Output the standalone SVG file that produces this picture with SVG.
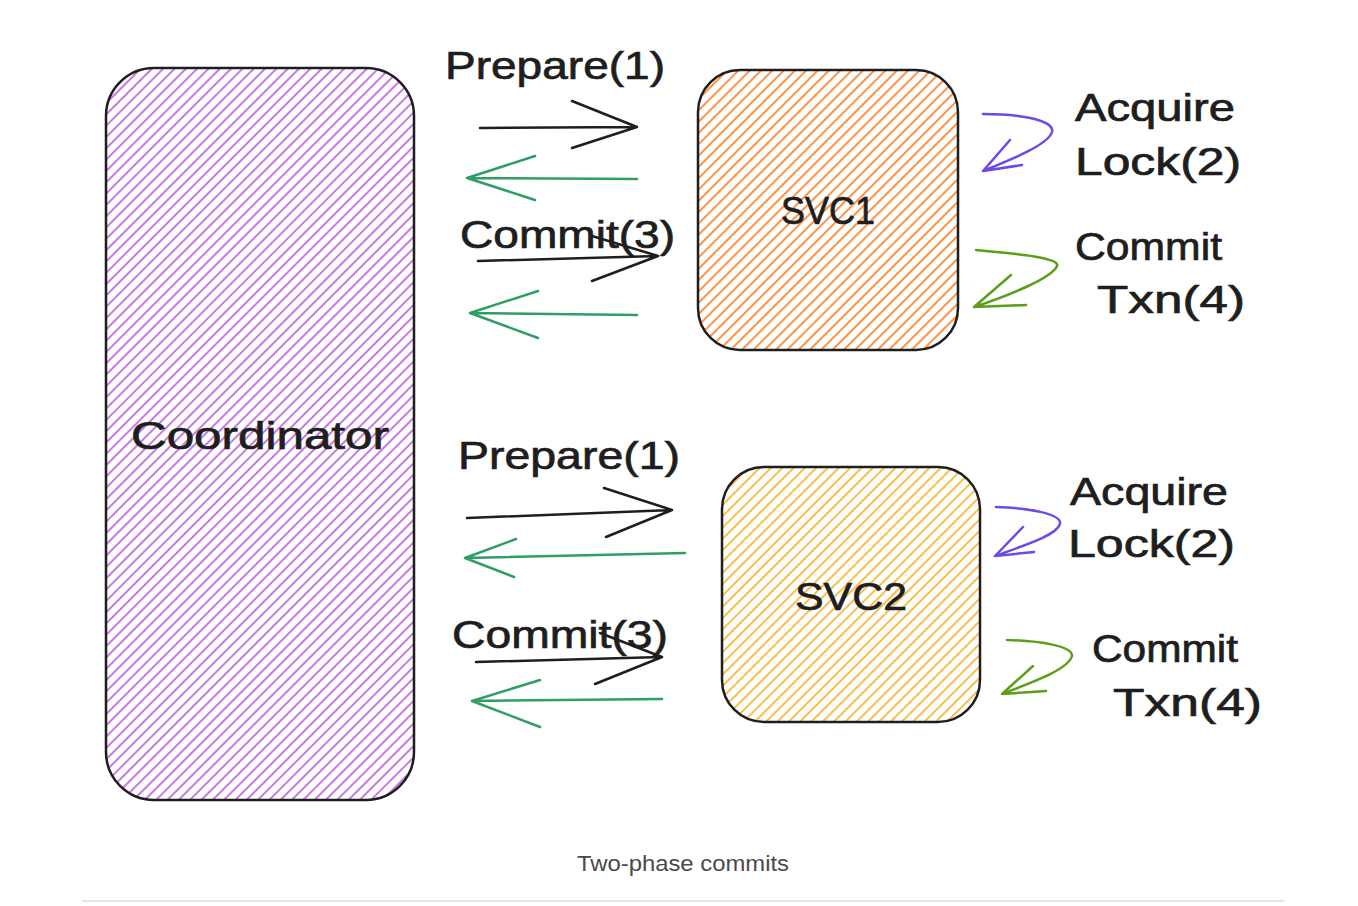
<svg xmlns="http://www.w3.org/2000/svg" width="1358" height="906" viewBox="0 0 1358 906">
<defs>
<pattern id="hatchPurple" width="8" height="8" patternUnits="userSpaceOnUse" patternTransform="rotate(-45)">
<line x1="0" y1="4" x2="8" y2="4" stroke="#c160de" stroke-width="1.7"/>
</pattern>
<pattern id="hatchOrange" width="8" height="8" patternUnits="userSpaceOnUse" patternTransform="rotate(-45)">
<line x1="0" y1="4" x2="8" y2="4" stroke="#fd8026" stroke-width="1.7"/>
</pattern>
<pattern id="hatchYellow" width="8" height="8" patternUnits="userSpaceOnUse" patternTransform="rotate(-45)">
<line x1="0" y1="4" x2="8" y2="4" stroke="#f8b22c" stroke-width="1.7"/>
</pattern>
</defs>
<style>
.box{stroke:#1e1e1e;stroke-width:2.5}
.lbl{font-family:"Liberation Sans","DejaVu Sans",sans-serif;fill:#1e1e1e;stroke:#1e1e1e;stroke-width:0.7}
.big{font-size:38px}
.blk{fill:none;stroke:#1e1e1e;stroke-width:2.5;stroke-linecap:round;stroke-linejoin:round}
.grn{fill:none;stroke:#2f9e64;stroke-width:2.5;stroke-linecap:round;stroke-linejoin:round}
.vio{fill:none;stroke:#7048e8;stroke-width:2.5;stroke-linecap:round;stroke-linejoin:round}
.lim{fill:none;stroke:#5c9e1a;stroke-width:2.5;stroke-linecap:round;stroke-linejoin:round}
.cap{font-family:"Liberation Sans","Helvetica",sans-serif;font-size:22px;fill:#4a4a4a}
</style>
<rect width="1358" height="906" fill="#ffffff"/>

<g id="coordinator">
<rect class="box" x="106" y="68" width="308" height="732" rx="48" fill="url(#hatchPurple)"/>
<text class="lbl big" x="260" y="449" text-anchor="middle" textLength="258" lengthAdjust="spacingAndGlyphs">Coordinator</text>
</g>

<g id="svc1">
<rect class="box" x="698" y="70" width="260" height="280" rx="42" fill="url(#hatchOrange)"/>
<text class="lbl big" x="828" y="224" text-anchor="middle" textLength="94" lengthAdjust="spacingAndGlyphs">SVC1</text>
</g>

<g id="svc2">
<rect class="box" x="722" y="467" width="258" height="255" rx="42" fill="url(#hatchYellow)"/>
<text class="lbl big" x="851" y="610" text-anchor="middle" textLength="112" lengthAdjust="spacingAndGlyphs">SVC2</text>
</g>

<g id="labels">
<text class="lbl big" x="445" y="79" textLength="220" lengthAdjust="spacingAndGlyphs">Prepare(1)</text>
<text class="lbl big" x="460" y="248" textLength="215" lengthAdjust="spacingAndGlyphs">Commit(3)</text>
<text class="lbl big" x="458" y="469" textLength="222" lengthAdjust="spacingAndGlyphs">Prepare(1)</text>
<text class="lbl big" x="452" y="648" textLength="216" lengthAdjust="spacingAndGlyphs">Commit(3)</text>
<text class="lbl big" x="1075" y="121" textLength="160" lengthAdjust="spacingAndGlyphs">Acquire</text>
<text class="lbl big" x="1075" y="175" textLength="166" lengthAdjust="spacingAndGlyphs">Lock(2)</text>
<text class="lbl big" x="1075" y="260" textLength="147" lengthAdjust="spacingAndGlyphs">Commit</text>
<text class="lbl big" x="1097" y="313" textLength="148" lengthAdjust="spacingAndGlyphs">Txn(4)</text>
<text class="lbl big" x="1070" y="505" textLength="158" lengthAdjust="spacingAndGlyphs">Acquire</text>
<text class="lbl big" x="1068" y="557" textLength="167" lengthAdjust="spacingAndGlyphs">Lock(2)</text>
<text class="lbl big" x="1092" y="662" textLength="146" lengthAdjust="spacingAndGlyphs">Commit</text>
<text class="lbl big" x="1113" y="716" textLength="149" lengthAdjust="spacingAndGlyphs">Txn(4)</text>
</g>

<g id="connectors">
<path class="blk" d="M480 128 L637 127 M572 101 L637 127 L572 148"/>
<path class="grn" d="M637 179 L467 178 M535 156 L467 178 L535 200"/>
<path class="blk" d="M478 261 L658 256 M592 236 L658 256 L592 281"/>
<path class="grn" d="M637 315 L470 313 M538 291 L470 313 L538 338"/>
<path class="blk" d="M467 518 L672 510 M604 488 L672 510 L606 537"/>
<path class="grn" d="M685 553 L465 558 M516 539 L465 558 L514 577"/>
<path class="blk" d="M476 662 L662 657 M600 633 L662 657 L595 684"/>
<path class="grn" d="M662 699 L472 701 M540 680 L472 701 L540 727"/>
<path class="vio" d="M983 114 C1020 114 1055 120 1052 132 C1048 145 1010 160 983 171 M1010 140 L983 171 L1022 165"/>
<path class="lim" d="M976 250 C1020 254 1060 258 1057 266 C1052 278 1010 295 974 307 M1011 275 L974 307 L1026 305"/>
<path class="vio" d="M996 507 C1030 508 1062 514 1060 524 C1056 536 1022 546 995 556 M1023 527 L995 556 L1034 552"/>
<path class="lim" d="M1007 640 C1040 641 1073 646 1072 656 C1068 670 1030 683 1002 694 M1033 666 L1002 694 L1046 691"/>
</g>

<g id="caption">
<text class="cap" x="683" y="871" text-anchor="middle" textLength="212" lengthAdjust="spacingAndGlyphs">Two-phase commits</text>
<line x1="82" y1="901" x2="1284" y2="901" stroke="#dddddd" stroke-width="1.5"/>
</g>
</svg>
